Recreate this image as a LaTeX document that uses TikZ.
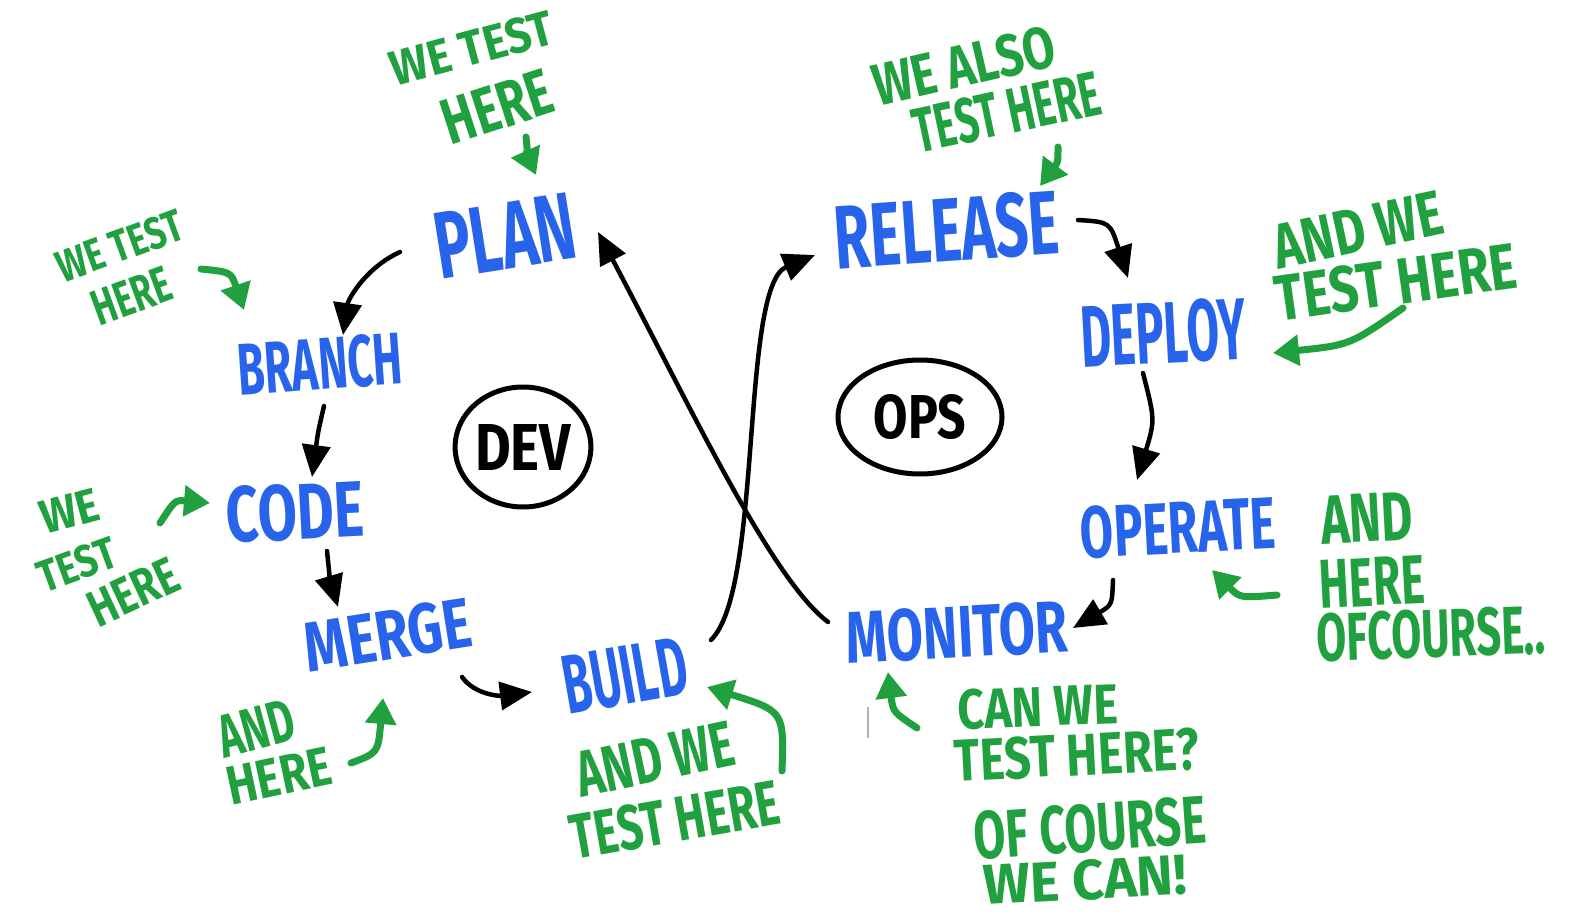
\documentclass[tikz,border=0pt]{standalone}
\usepackage{fontspec}
\setmainfont{Fira Sans}
\usetikzlibrary{arrows.meta,shapes.geometric,calc}
\definecolor{hblue}{RGB}{40,100,235}
\definecolor{hgreen}{RGB}{32,160,62}
\newcommand{\hw}[3]{\resizebox{#1pt}{#2pt}{\bfseries #3}}
\begin{document}
\begin{tikzpicture}[x=1pt,y=-1pt,
  stage/.style={text=hblue, inner sep=0pt},
  note/.style={text=hgreen, inner sep=0pt},
  blk/.style={draw=black, line width=4.5pt, line cap=round, -{Triangle[length=32pt,width=28pt]}},
  grn/.style={draw=hgreen, line width=7pt, line cap=round, -{Triangle[length=26pt,width=30pt]}},
  ring/.style={draw=black, line width=5pt, ellipse, inner sep=0pt}]
\useasboundingbox[fill=white] (0,0) rectangle (1591,920);

% stages
\node[stage, rotate=9] (plan) at (505,236) {\hw{142}{66}{PLAN}};
\node[stage, rotate=4] (branch) at (320,364) {\hw{165}{52}{BRANCH}};
\node[stage, rotate=3] (code) at (295,512) {\hw{138}{56}{CODE}};
\node[stage, rotate=9] (merge) at (388,635) {\hw{168}{50}{MERGE}};
\node[stage, rotate=10] (build) at (625,676) {\hw{125}{58}{BUILD}};
\node[stage, rotate=4] (release) at (947,230) {\hw{225}{64}{RELEASE}};
\node[stage, rotate=3] (deploy) at (1163,333) {\hw{165}{62}{DEPLOY}};
\node[stage, rotate=3] (operate) at (1178,528) {\hw{195}{52}{OPERATE}};
\node[stage, rotate=3] (monitor) at (957,632) {\hw{222}{52}{MONITOR}};

% dev / ops
\node[ring, minimum width=126pt, minimum height=120pt] (dev) at (523,447) {\hw{96}{46}{DEV}};
\node[ring, minimum width=164pt, minimum height=114pt] (ops) at (920,417) {\hw{92}{44}{OPS}};

% notes
\node[note, rotate=15] (n1a) at (472,48) {\hw{167}{35}{WE TEST}};
\node[note, rotate=18] (n1b) at (497,107) {\hw{112}{45}{HERE}};
\node[note, rotate=20] (n2a) at (120,246) {\hw{131}{32}{WE TEST}};
\node[note, rotate=20] (n2b) at (132,296) {\hw{81}{35}{HERE}};
\node[note, rotate=15] (n3a) at (70,511) {\hw{59}{33}{WE}};
\node[note, rotate=20] (n3b) at (77,565) {\hw{81}{32}{TEST}};
\node[note, rotate=25] (n3c) at (133,592) {\hw{94}{36}{HERE}};
\node[note, rotate=15] (n4a) at (256,728) {\hw{77}{42}{AND}};
\node[note, rotate=12] (n4b) at (279,776) {\hw{105}{38}{HERE}};
\node[note, rotate=12] (n5a) at (655,759) {\hw{160}{45}{AND WE}};
\node[note, rotate=10] (n5b) at (675,820) {\hw{211}{45}{TEST HERE}};
\node[note, rotate=13] (n6a) at (964,66) {\hw{185}{42}{WE ALSO}};
\node[note, rotate=12] (n6b) at (1007,112) {\hw{190}{45}{TEST HERE}};
\node[note, rotate=12] (n7a) at (1358,230) {\hw{172}{44}{AND WE}};
\node[note, rotate=8] (n7b) at (1396,282) {\hw{243}{46}{TEST HERE}};
\node[note, rotate=3] (n8a) at (1367,518) {\hw{92}{48}{AND}};
\node[note, rotate=3] (n8b) at (1372,582) {\hw{105}{48}{HERE}};
\node[note, rotate=2] (n8c) at (1431,634) {\hw{228}{48}{OFCOURSE..}};
\node[note, rotate=2] (n9a) at (1038,707) {\hw{160}{40}{CAN WE}};
\node[note, rotate=3] (n9b) at (1077,755) {\hw{245}{42}{TEST HERE?}};
\node[note, rotate=4] (n9c) at (1090,828) {\hw{232}{48}{OF COURSE}};
\node[note, rotate=3] (n9d) at (1085,880) {\hw{204}{40}{WE CAN!}};

% black flow arrows
\draw[blk] ($(plan)+(-105,16)$) .. controls (365,268) and (348,300) .. ($(branch)+(23,-29)$);
\draw[blk] ($(branch)+(4,42)$) .. controls (318,432) .. ($(code)+(17,-35)$);
\draw[blk] ($(code)+(32,39)$) .. controls (330,580) .. ($(merge)+(-50,-28)$);
\draw[blk] ($(merge)+(74,42)$) .. controls (475,695) and (500,696) .. ($(build)+(-93,16)$);
\draw[blk] ($(build)+(86,-36)$) .. controls (763,589) and (740,286) .. ($(release)+(-132,25)$);
\draw[blk] ($(monitor)+(-129,-10)$) .. controls (771,579) and (690,406) .. ($(plan)+(93,-4)$);
\draw[blk] ($(release)+(131,-10)$) .. controls (1110,222) .. ($(deploy)+(-35,-55)$);
\draw[blk] ($(deploy)+(-20,40)$) .. controls (1155,420) .. ($(operate)+(-41,-48)$);
\draw[blk] ($(operate)+(-65,52)$) .. controls (1112,605) .. ($(monitor)+(116,-4)$);

% green note arrows
\draw[grn] ($(n1b)+(29,30)$) .. controls (528,157) .. ($(plan)+(31,-61)$);
\draw[grn] ($(n2b)+(69,-27)$) .. controls (231,272) .. ($(branch)+(-76,-54)$);
\draw[grn] ($(n3a)+(90,12)$) .. controls (175,500) .. ($(code)+(-85,-9)$);
\draw[grn] ($(n4b)+(72,-13)$) .. controls (378,753) .. ($(merge)+(-5,63)$);
\draw[grn] ($(n5a)+(127,12)$) .. controls (784,711) .. ($(build)+(82,11)$);
\draw[grn] ($(n6b)+(51,35)$) .. controls (1058,162) .. ($(release)+(93,-44)$);
\draw[grn] ($(n7b)+(7,26)$) .. controls (1350,345) .. ($(deploy)+(110,20)$);
\draw[grn] ($(n8b)+(-95,13)$) .. controls (1240,598) .. ($(operate)+(34,42)$);
\draw[grn] ($(n9a)+(-121,21)$) .. controls (893,712) .. ($(monitor)+(-69,40)$);

% stray mark
\draw[gray!60, line width=1.2pt] (868,707) -- (868,738);
\end{tikzpicture}
\end{document}
